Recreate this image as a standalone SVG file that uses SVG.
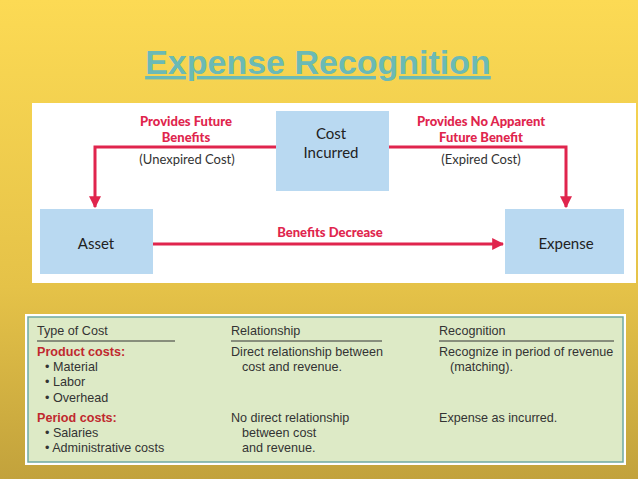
<svg xmlns="http://www.w3.org/2000/svg" width="638" height="479" viewBox="0 0 638 479">
<defs>
<linearGradient id="bg" x1="0" y1="0" x2="0" y2="1"><stop offset="0" stop-color="#fcda54"/><stop offset="0.6" stop-color="#e5c248"/><stop offset="1" stop-color="#c2a23c"/></linearGradient>
<marker id="ah" viewBox="0 0 10 10" refX="9" refY="5" markerWidth="4" markerHeight="4" orient="auto"><path d="M0,0L10,5L0,10z" fill="#e0254d"/></marker>
</defs>
<style>
.box{fill:#b9d9f1}
.nt{font-family:"Lato","Liberation Sans",sans-serif;font-size:15px;fill:#222;text-anchor:middle}
.rl{font-family:"Lato","Liberation Sans",sans-serif;font-size:13px;font-weight:900;fill:#e0254d;text-anchor:middle}
.gl{font-family:"Lato","Liberation Sans",sans-serif;font-size:13px;fill:#333;text-anchor:middle}
.cn{fill:none;stroke:#e0254d;stroke-width:3}
.tt{font-family:"Liberation Sans",Arial,sans-serif;font-size:12.6px;fill:#333}
.tr{font-family:"Liberation Sans",Arial,sans-serif;font-size:12.6px;fill:#c0282e;font-weight:bold}
</style>
<rect width="638" height="479" fill="url(#bg)"/>
<text x="318" y="74" font-family="Liberation Sans,Arial,sans-serif" font-size="34" font-weight="bold" fill="#6bbab5" text-anchor="middle" text-decoration="underline">Expense Recognition</text>
<rect x="32" y="103" width="604" height="180" fill="#fff"/>
<g id="connectors">
<path class="cn" d="M276,147H95V207" marker-end="url(#ah)"/>
<path class="cn" d="M389,147H566V207" marker-end="url(#ah)"/>
<path class="cn" d="M153,244H503" marker-end="url(#ah)"/>
<text class="rl" x="186" y="126">Provides Future</text>
<text class="rl" x="186" y="142">Benefits</text>
<text class="gl" x="187" y="164">(Unexpired Cost)</text>
<text class="rl" x="481" y="126">Provides No Apparent</text>
<text class="rl" x="481" y="142">Future Benefit</text>
<text class="gl" x="481" y="164">(Expired Cost)</text>
<text class="rl" x="330" y="237">Benefits Decrease</text>
</g>
<g id="cost"><rect class="box" x="276" y="111" width="113" height="80"/><text class="nt" x="331" y="139">Cost</text><text class="nt" x="331" y="158">Incurred</text></g>
<g id="asset"><rect class="box" x="40" y="209" width="113" height="65"/><text class="nt" x="96" y="249">Asset</text></g>
<g id="expense"><rect class="box" x="505" y="209" width="119" height="65"/><text class="nt" x="566" y="249">Expense</text></g>
<g id="table">
<rect x="25" y="314" width="601" height="151" fill="#fff"/>
<rect x="28" y="317" width="595" height="145" fill="#ddeac6" stroke="#6fa9a0" stroke-width="1.5"/>
<g stroke="#333" stroke-width="1"><line x1="37" y1="341" x2="175" y2="341"/><line x1="231" y1="341" x2="382" y2="341"/><line x1="439" y1="341" x2="614" y2="341"/></g>
<text class="tt" x="37" y="335">Type of Cost</text>
<text class="tt" x="231" y="335">Relationship</text>
<text class="tt" x="439" y="335">Recognition</text>
<text class="tr" x="37" y="356">Product costs:</text>
<text class="tt" x="45" y="371">• Material</text>
<text class="tt" x="45" y="386">• Labor</text>
<text class="tt" x="45" y="402">• Overhead</text>
<text class="tt" x="231" y="356">Direct relationship between</text>
<text class="tt" x="242" y="371">cost and revenue.</text>
<text class="tt" x="439" y="356">Recognize in period of revenue</text>
<text class="tt" x="450" y="371">(matching).</text>
<text class="tr" x="37" y="422">Period costs:</text>
<text class="tt" x="45" y="437">• Salaries</text>
<text class="tt" x="45" y="452">• Administrative costs</text>
<text class="tt" x="231" y="422">No direct relationship</text>
<text class="tt" x="242" y="437">between cost</text>
<text class="tt" x="242" y="452">and revenue.</text>
<text class="tt" x="439" y="422">Expense as incurred.</text>
</g>
</svg>
